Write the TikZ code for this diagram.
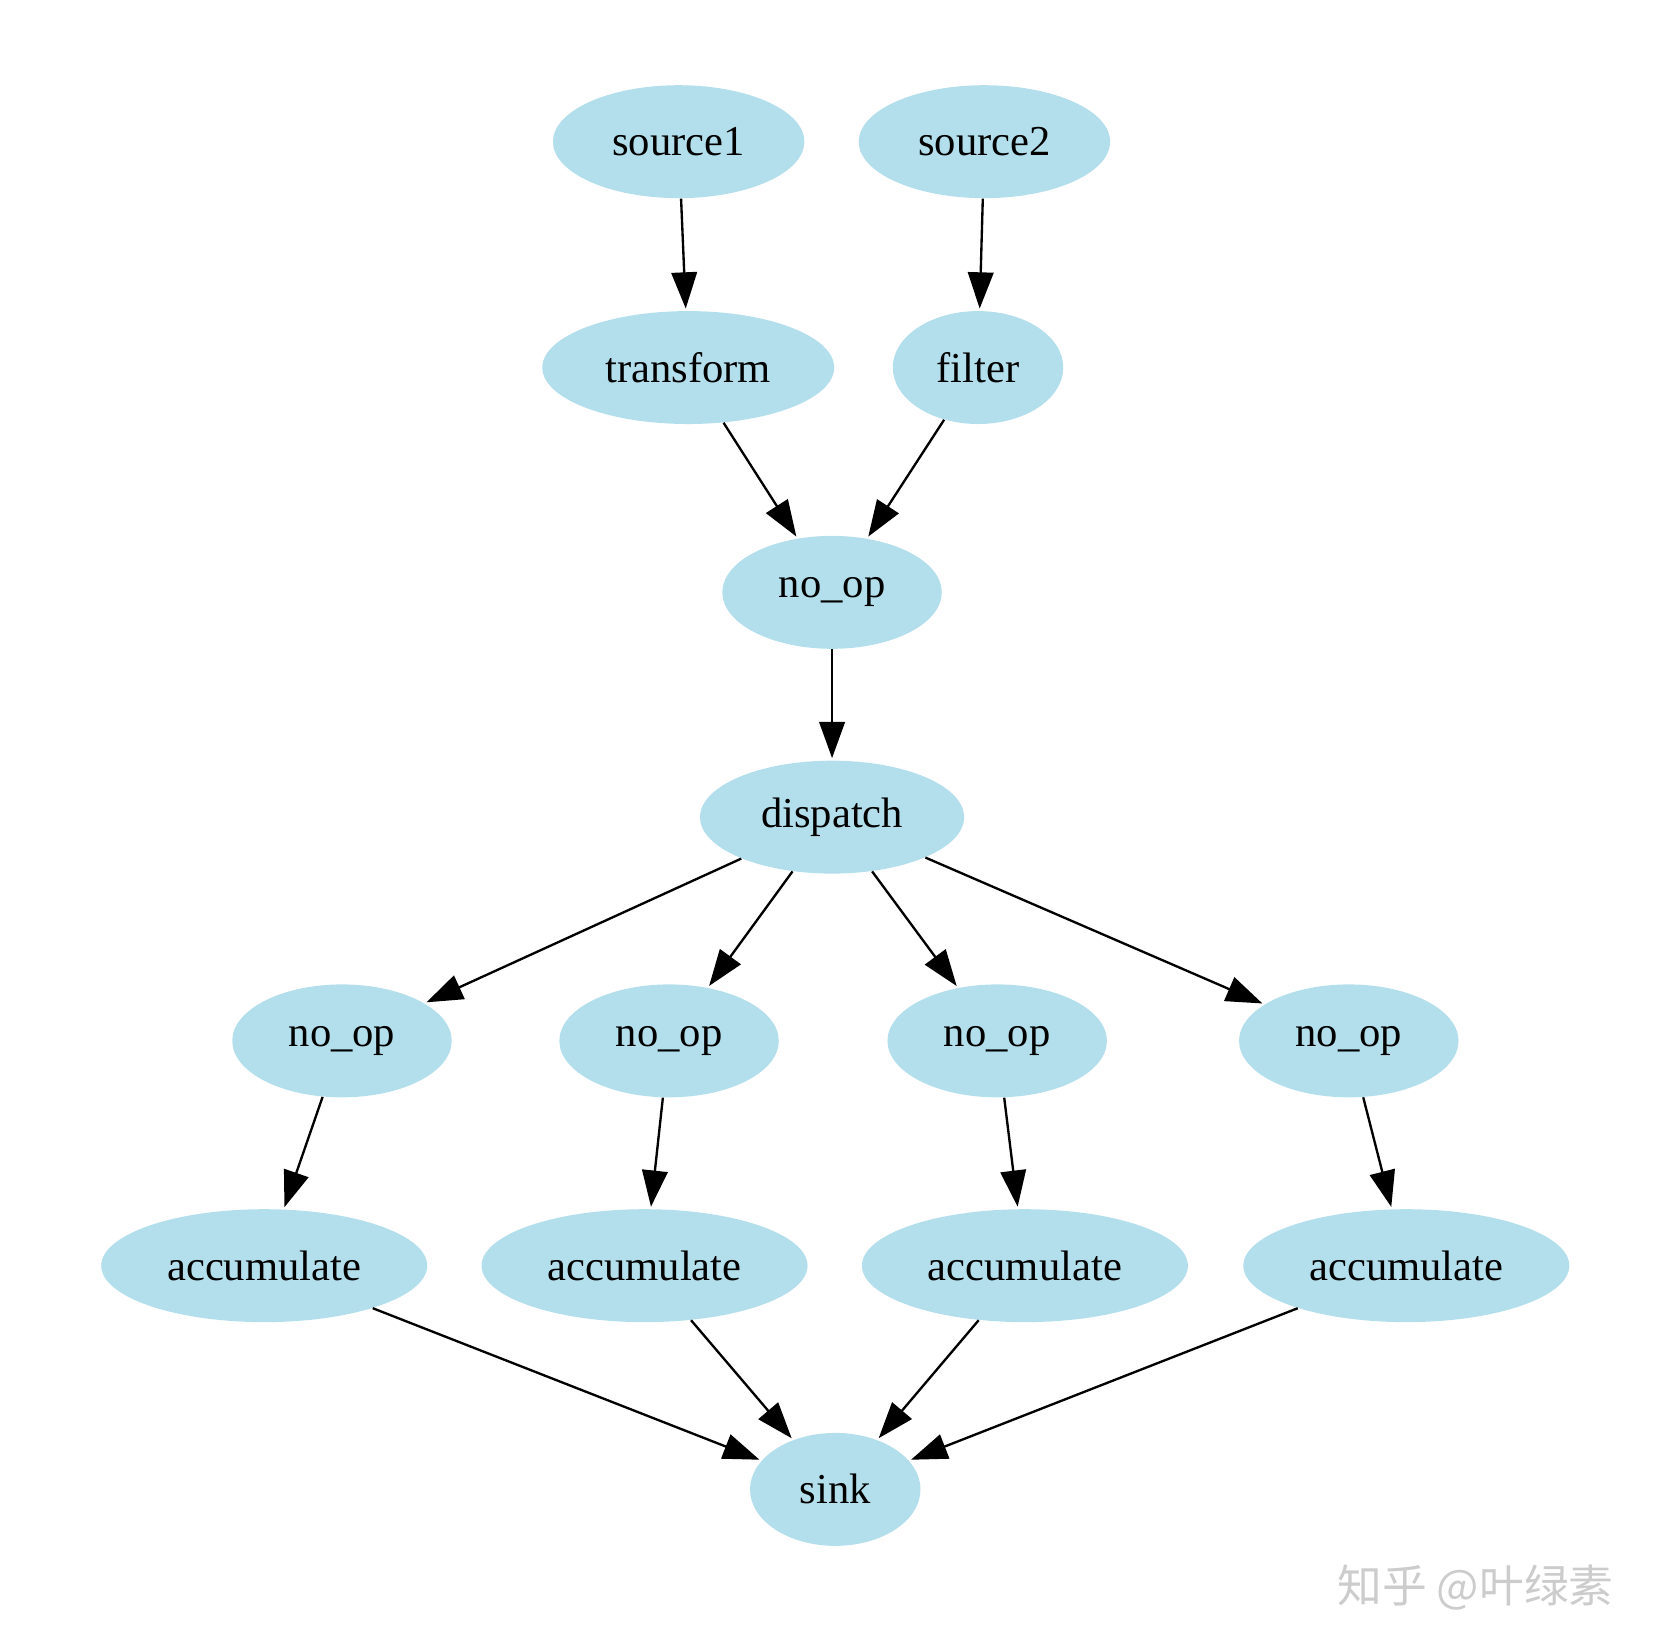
\documentclass[tikz,border=0pt]{standalone}
\usepackage{fontspec}
\setmainfont{Liberation Serif}
\newfontfamily\cjk{Noto Sans CJK SC}
\usetikzlibrary{shapes.geometric,arrows.meta}
\tikzset{
 nd/.style={ellipse,fill={rgb,255:red,179;green,223;blue,236},inner sep=0pt,font=\fontsize{20pt}{24pt}\selectfont},
 ar/.style={-{Triangle[length=17pt,width=12pt]},line width=1.1pt,shorten >=1pt}
}
\begin{document}
\begin{tikzpicture}[x=0.5pt,y=-0.5pt]
\useasboundingbox (0,0) rectangle (1560,1545);
\node[nd,minimum width=118pt,minimum height=53pt] (s1) at (637,133) {source1};
\node[nd,minimum width=118pt,minimum height=53pt] (s2) at (924,133) {source2};
\node[nd,minimum width=137pt,minimum height=53pt] (tr) at (646,345) {transform};
\node[nd,minimum width=80pt,minimum height=53pt] (fi) at (918,345) {filter};
\node[nd,minimum width=103pt,minimum height=53pt] (n0) at (781,556) {no\_op};
\node[nd,minimum width=124pt,minimum height=53pt] (di) at (781,767) {dispatch};
\foreach \i/\x in {1/321,2/628,3/936,4/1266}
  \node[nd,minimum width=103pt,minimum height=53pt] (n\i) at (\x,977) {no\_op};
\foreach \i/\x in {1/248,2/605,3/962,4/1320}
  \node[nd,minimum width=153pt,minimum height=53pt] (a\i) at (\x,1188) {accumulate};
\node[nd,minimum width=80pt,minimum height=53pt] (sk) at (784,1398) {sink};
\draw[ar] (s1) -- (tr);
\draw[ar] (s2) -- (fi);
\draw[ar] (tr) -- (n0);
\draw[ar] (fi) -- (n0);
\draw[ar] (n0) -- (di);
\foreach \i in {1,2,3,4} {
  \draw[ar] (di) -- (n\i);
  \draw[ar] (n\i) -- (a\i);
  \draw[ar] (a\i) -- (sk);
}
\node[text=black!20,font=\cjk\fontsize{21pt}{24pt}\selectfont] (wm) at (1385,1490) {知乎 @叶绿素};
\end{tikzpicture}
\end{document}
